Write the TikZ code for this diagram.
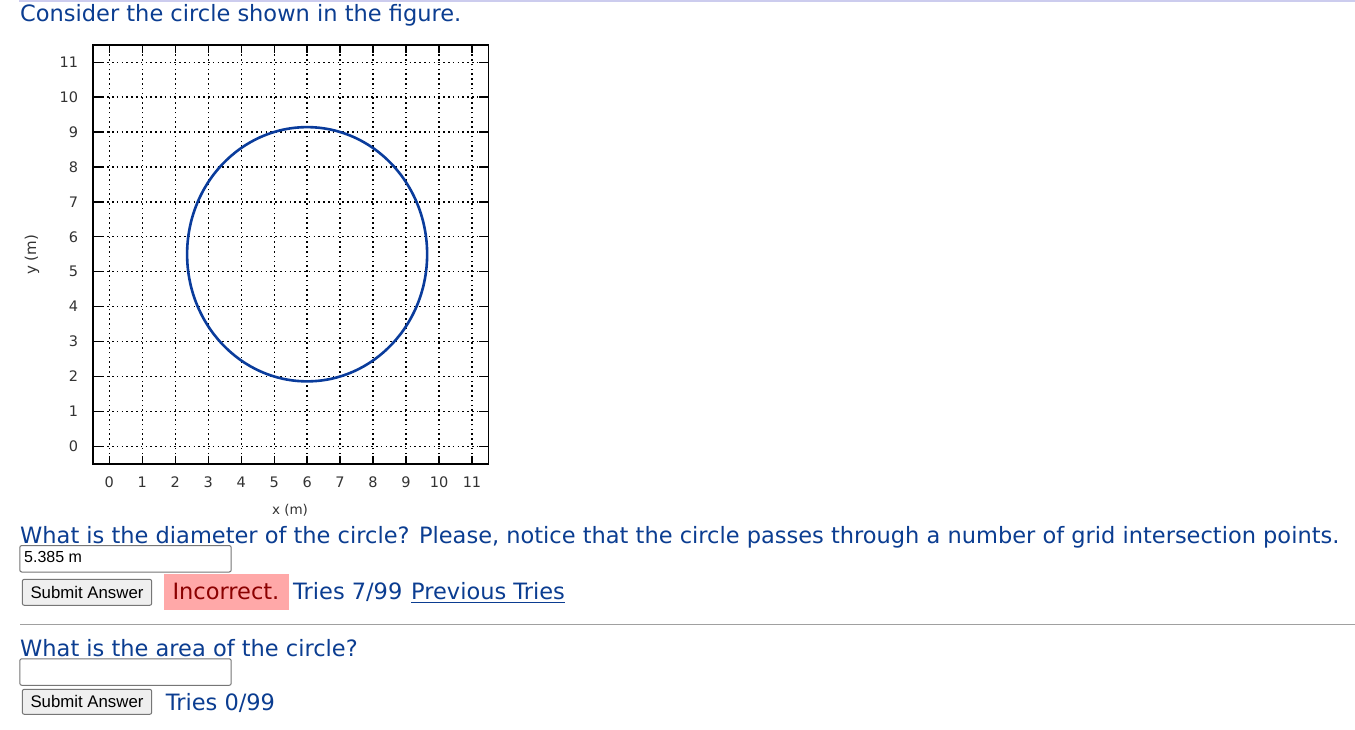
\documentclass[tikz,border=0pt]{standalone}
\usepackage{fontspec}
\setmainfont{DejaVu Sans}
\newfontfamily\arialf{Liberation Sans}
\definecolor{txtblue}{HTML}{0B3D91}
\definecolor{circblue}{HTML}{0A3C9C}
\definecolor{pinkbg}{HTML}{FFA8A8}
\definecolor{darkred}{HTML}{8B0000}
\definecolor{boxgray}{HTML}{767676}
\definecolor{btnfill}{HTML}{EFEFEF}
\definecolor{ticktext}{HTML}{333333}
\definecolor{topline}{HTML}{CCCCEE}
\definecolor{rulegray}{HTML}{A0A0A0}
\begin{document}
\begin{tikzpicture}[x=1pt,y=-1pt,
  qtext/.style={inner sep=0pt, anchor=base west, text=txtblue, font=\fontsize{22.5}{26}\selectfont},
  inbox/.style={draw=boxgray, line width=1pt, rounded corners=2pt, anchor=north west, minimum width=211.4pt, minimum height=26.5pt, inner sep=0pt},
  btn/.style={draw=boxgray, fill=btnfill, line width=1pt, rounded corners=2pt, minimum width=129.4pt, inner sep=0pt, text=black, font=\arialf\fontsize{16.8}{19}\selectfont},
  intext/.style={inner sep=0pt, anchor=base west, text=black, font=\arialf\fontsize{16}{19}\selectfont},
  gridline/.style={black, line width=1.3pt, dash pattern=on 1.5pt off 3.3pt},
  tickmark/.style={black, line width=1.3pt},
  frameline/.style={black, line width=1.6pt},
  ticklbl/.style={inner sep=0pt, text=ticktext, font=\fontsize{14.5}{17}\selectfont},
  axlbl/.style={inner sep=0pt, text=ticktext, font=\fontsize{13.5}{16}\selectfont},
  circline/.style={circblue, line width=2.6pt}
]
\useasboundingbox (0,0) rectangle (1355,729);
\fill[white] (0,0) rectangle (1355,729);

% top line
\draw[topline, line width=1.5pt] (19,1) -- (1355,1);

\node[qtext] (title) at (20,21) {Consider the circle shown in the figure.};

% plot
\begin{scope}[shift={(109.3pt,-446.3pt)}, x=32.97pt, y=34.92pt]
  \foreach \i in {0,...,11} {
    \draw[gridline] (\i,-0.5) -- (\i,11.5);
    \draw[gridline] (-0.5,\i) -- (11.5,\i);
  }
  \foreach \i in {0,...,11} {
    \draw[tickmark] (\i,-0.5) -- ++(0,8pt);
    \draw[tickmark] (\i,11.5) -- ++(0,-8pt);
    \draw[tickmark] (-0.5,\i) -- ++(9pt,0);
    \draw[tickmark] (11.5,\i) -- ++(-9pt,0);
    \node[ticklbl, anchor=east] (yl\i) at ([xshift=-14.6pt]-0.5,\i) {\i};
    \node[ticklbl] (xl\i) at ([yshift=-18.3pt]\i,-0.5) {\i};
  }
  \draw[frameline] (-0.5,-0.5) rectangle (11.5,11.5);
  \draw[circline] (6,5.5) ellipse [x radius=3.64, y radius=3.64];
\end{scope}

\node[axlbl] (xlab) at (290,510) {x (m)};
\node[axlbl, font=\fontsize{15}{17}\selectfont, rotate=90] (ylab) at (32,255) {y (m)};

% question 1
\node[qtext] (q1) at (20,543) {What is the diameter of the circle? Please, notice that the circle passes through a number of grid intersection points.};
\node[inbox] (ans1) at (19.3,545) {};
\node[intext] (ans1txt) at (24,562.5) {5.385 m};
\node[btn, minimum height=26pt] (btn1) at (87,592.3) {Submit Answer};
\node[fill=pinkbg, anchor=north west, minimum width=125pt, minimum height=36pt, inner sep=0pt] (incbg) at (164,574) {};
\node[qtext, text=darkred] (inc) at (172.3,599) {Incorrect.};
\node[qtext] (tries1) at (293,599) {Tries 7/99};
\node[qtext] (prev) at (411,599) {Previous Tries};
\draw[txtblue, line width=1.5pt] ([yshift=-3.5pt]prev.base west) -- ([yshift=-3.5pt]prev.base east);

% rule
\draw[rulegray, line width=1.5pt] (20,624.3) -- (1355,624.3);

% question 2
\node[qtext] (q2) at (20,656) {What is the area of the circle?};
\node[inbox] (ans2) at (19.3,658.3) {};
\node[btn, minimum height=25pt] (btn2) at (87,701.8) {Submit Answer};
\node[qtext] (tries2) at (165.7,710) {Tries 0/99};
\end{tikzpicture}
\end{document}
